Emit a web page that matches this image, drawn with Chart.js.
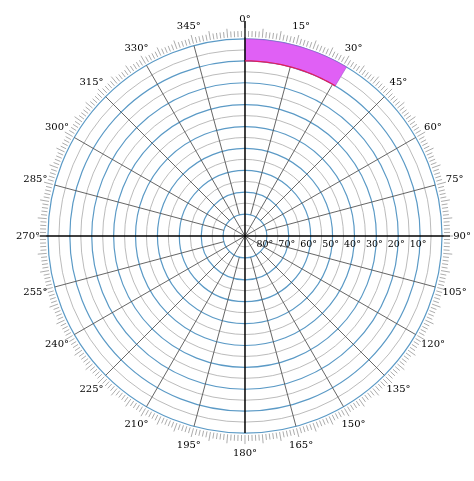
<!DOCTYPE html>
<html>
<head>
<style>html,body{margin:0;padding:0;background:#fff}#wrap{width:474px;height:481px}</style>
<script src="https://cdn.jsdelivr.net/npm/chart.js@4/dist/chart.umd.min.js"></script>
</head>
<body>
<div id="wrap"><canvas id="c"></canvas></div>
<script>
// azimuth / elevation grid (degrees)
const azimuthLabels = [0, 15, 30, 45, 60, 75, 90, 105, 120, 135, 150, 165, 180, 195, 210, 225, 240, 255, 270, 285, 300, 315, 330, 345];
const elevationLabels = [10, 20, 30, 40, 50, 60, 70, 80];
const elevationRings = [0, 5, 10, 15, 20, 25, 30, 35, 40, 45, 50, 55, 60, 65, 70, 75, 80, 85];
// highlighted region
const bandAzimuth = [0, 31];
const bandElevation = [0, 10];

const toXY = (az, el) => {
    const r = 90 - el;
    const a = az * Math.PI / 180;
    return { x: r * Math.sin(a), y: r * Math.cos(a) };
};

const bandPoints = [];
for (let az = bandAzimuth[0]; az <= bandAzimuth[1]; az++) bandPoints.push(toXY(az, bandElevation[0]));
for (let az = bandAzimuth[1]; az >= bandAzimuth[0]; az--) bandPoints.push(toXY(az, bandElevation[1]));

const innerEdge = [];
for (let az = bandAzimuth[0]; az <= bandAzimuth[1]; az++) innerEdge.push(toXY(az, bandElevation[1]));

const gridPlugin = {
    id: 'polarGrid',
    beforeDatasetsDraw(chart) {
        const { ctx, scales: { x, y } } = chart;
        const cx = x.getPixelForValue(0), cy = y.getPixelForValue(0);
        const k = x.getPixelForValue(1) - cx;
        const R = 90 * k;
        ctx.save();
        elevationRings.forEach(el => {
            ctx.beginPath();
            ctx.arc(cx, cy, (90 - el) * k, 0, Math.PI * 2);
            ctx.strokeStyle = el % 10 === 0 ? '#5b9ac6' : '#aaaaaa';
            ctx.lineWidth = el % 10 === 0 ? 1.2 : 0.8;
            ctx.stroke();
        });
        azimuthLabels.forEach(az => {
            if (az % 90 === 0) return;
            const a = az * Math.PI / 180;
            const r0 = az % 30 === 0 ? 0 : 10 * k;
            ctx.beginPath();
            ctx.moveTo(cx + r0 * Math.sin(a), cy - r0 * Math.cos(a));
            ctx.lineTo(cx + R * Math.sin(a), cy - R * Math.cos(a));
            ctx.strokeStyle = '#555';
            ctx.lineWidth = 0.9;
            ctx.stroke();
        });
        // band fill from the dataset's element positions
        const pts = chart.getDatasetMeta(0).data;
        ctx.beginPath();
        pts.forEach((p, i) => i ? ctx.lineTo(p.x, p.y) : ctx.moveTo(p.x, p.y));
        ctx.closePath();
        ctx.fillStyle = '#e060f5';
        ctx.fill();
        ctx.strokeStyle = '#a050d0';
        ctx.lineWidth = 0.6;
        ctx.stroke();
        ctx.beginPath();
        ctx.moveTo(cx, cy - R - 18); ctx.lineTo(cx, cy + R);
        ctx.moveTo(cx - R - 8, cy); ctx.lineTo(cx + R + 8, cy);
        ctx.strokeStyle = '#000';
        ctx.lineWidth = 1.5;
        ctx.stroke();
        ctx.strokeStyle = '#888';
        ctx.lineWidth = 0.7;
        for (let d = 0; d < 360; d++) {
            const a = d * Math.PI / 180;
            const len = d % 5 === 0 ? 9 : 6;
            ctx.beginPath();
            ctx.moveTo(cx + (R + 2) * Math.sin(a), cy - (R + 2) * Math.cos(a));
            ctx.lineTo(cx + (R + 2 + len) * Math.sin(a), cy - (R + 2 + len) * Math.cos(a));
            ctx.stroke();
        }
        ctx.fillStyle = '#000';
        ctx.font = '10px "DejaVu Serif", "Liberation Serif", serif';
        ctx.textAlign = 'center';
        ctx.textBaseline = 'middle';
        azimuthLabels.forEach(az => {
            const a = az * Math.PI / 180;
            const rl = R + 20;
            ctx.fillText(az + '°', cx + rl * Math.sin(a), cy - rl * Math.cos(a));
        });
        ctx.font = '9.5px "DejaVu Serif", "Liberation Serif", serif';
        elevationLabels.forEach(el => {
            ctx.fillText(el + '°', cx + (90 - el) * k - 2, cy + 9);
        });
        ctx.restore();
    }
};

new Chart(document.getElementById('c'), {
    type: 'scatter',
    data: {
        datasets: [{
            data: bandPoints,
            showLine: false,
            pointRadius: 0
        }, {
            data: innerEdge,
            showLine: true,
            borderColor: '#e0205a',
            borderWidth: 1.2,
            pointRadius: 0
        }]
    },
    plugins: [gridPlugin],
    options: {
        responsive: true,
        maintainAspectRatio: false,
        animation: false,
        layout: { padding: 0 },
        plugins: { legend: { display: false }, tooltip: { enabled: false } },
        scales: {
            x: { type: 'linear', display: false, min: -111.9, max: 104.6 },
            y: { type: 'linear', display: false, min: -111.9, max: 107.8 }
        }
    }
});
</script>
</body>
</html>
